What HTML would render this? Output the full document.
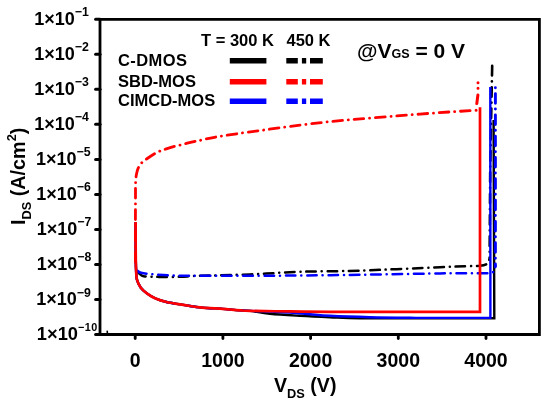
<!DOCTYPE html>
<html><head><meta charset="utf-8"><style>
html,body{margin:0;padding:0;background:#fff;}
svg{display:block;}
text{font-family:"Liberation Sans",Arial,sans-serif;font-weight:bold;fill:#000;}
</style></head><body>
<svg width="550" height="406" viewBox="0 0 550 406">
<rect width="550" height="406" fill="#fff"/>

<path d="M135.60 222.00 C135.62 226.67 135.63 242.33 135.70 250.00 C135.77 257.67 135.78 263.03 136.00 268.00 C136.22 272.97 136.20 276.52 137.00 279.80 C137.80 283.08 139.10 285.40 140.80 287.70 C142.50 290.00 144.73 291.80 147.20 293.60 C149.67 295.40 152.38 297.10 155.60 298.50 C158.82 299.90 162.43 301.02 166.50 302.00 C170.57 302.98 176.08 303.73 180.00 304.40 C183.92 305.07 186.67 305.50 190.00 306.00 C193.33 306.50 196.67 307.03 200.00 307.40 C203.33 307.77 206.67 308.00 210.00 308.20 C213.33 308.40 216.67 308.38 220.00 308.60 C223.33 308.82 226.67 309.22 230.00 309.50 C233.33 309.78 236.67 310.07 240.00 310.30 C243.33 310.53 245.00 310.32 250.00 310.90 C255.00 311.48 261.67 312.98 270.00 313.80 C278.33 314.62 290.00 315.23 300.00 315.80 C310.00 316.37 320.00 316.80 330.00 317.20 C340.00 317.60 345.00 318.02 360.00 318.20 C375.00 318.38 410.00 318.28 420.00 318.30 L494.3 318.3 L493.6 120" fill="none" stroke="#000" stroke-width="2.4" stroke-linejoin="miter"/>
<path d="M137.60 272.00 C138.17 272.50 139.77 274.27 141.00 275.00 C142.23 275.73 141.83 276.08 145.00 276.40 C148.17 276.72 154.17 276.83 160.00 276.90 C165.83 276.97 173.33 276.98 180.00 276.80 C186.67 276.62 188.33 276.20 200.00 275.80 C211.67 275.40 233.33 275.07 250.00 274.40 C266.67 273.73 281.67 272.43 300.00 271.80 C318.33 271.17 336.67 271.37 360.00 270.60 C383.33 269.83 420.00 268.00 440.00 267.20 C460.00 266.40 473.33 266.03 480.00 265.80 C485 265.5 488.5 264.5 489.4 259" fill="none" stroke="#000" stroke-width="2.5" stroke-dasharray="9.6 5.8 0.1 5.8" stroke-linecap="round" stroke-linejoin="round"/>
<path d="M492.2 65.9 L491.4 105 L490.2 170 L489.6 259" fill="none" stroke="#000" stroke-width="2.6" stroke-dasharray="9.6 5.8 0.1 5.8" stroke-linecap="round" stroke-linejoin="round"/>
<path d="M135.60 222.00 C135.62 226.67 135.63 242.33 135.70 250.00 C135.77 257.67 135.78 263.03 136.00 268.00 C136.22 272.97 136.20 276.52 137.00 279.80 C137.80 283.08 139.10 285.40 140.80 287.70 C142.50 290.00 144.73 291.80 147.20 293.60 C149.67 295.40 152.38 297.10 155.60 298.50 C158.82 299.90 162.43 301.02 166.50 302.00 C170.57 302.98 176.08 303.73 180.00 304.40 C183.92 305.07 186.67 305.50 190.00 306.00 C193.33 306.50 196.67 307.03 200.00 307.40 C203.33 307.77 206.67 308.00 210.00 308.20 C213.33 308.40 216.67 308.38 220.00 308.60 C223.33 308.82 226.67 309.22 230.00 309.50 C233.33 309.78 236.67 310.07 240.00 310.30 C243.33 310.53 245.00 310.68 250.00 310.90 C255.00 311.12 263.33 311.33 270.00 311.60 C276.67 311.87 283.33 312.07 290.00 312.50 C296.67 312.93 303.33 313.65 310.00 314.20 C316.67 314.75 320.00 315.30 330.00 315.80 C340.00 316.30 356.67 316.87 370.00 317.20 C383.33 317.53 398.33 317.68 410.00 317.80 C421.67 317.92 435.00 317.88 440.00 317.90 L490.4 317.9 L490.3 87" fill="none" stroke="#00f" stroke-width="2.4" stroke-linejoin="miter"/>
<path d="M137.60 270.90 C138.17 271.22 138.63 272.25 141.00 272.80 C143.37 273.35 146.37 273.73 151.80 274.20 C157.23 274.67 165.57 275.33 173.60 275.60 C181.63 275.87 187.27 275.77 200.00 275.80 C212.73 275.83 228.33 275.90 250.00 275.80 C271.67 275.70 298.33 275.60 330.00 275.20 C361.67 274.80 413.67 273.73 440.00 273.40 C466.33 273.07 480.00 273.23 488.00 273.20 C493 273 495.3 272 495.4 266" fill="none" stroke="#00f" stroke-width="2.5" stroke-dasharray="9.6 5.8 0.1 5.8" stroke-linecap="round" stroke-linejoin="round"/>
<path d="M495.4 87.7 L495.4 266" fill="none" stroke="#00f" stroke-width="2.9" stroke-dasharray="0.1 5.8 9.6 5.8" stroke-linecap="round"/>
<path d="M135.40 262.00 C135.40 256.67 135.38 240.78 135.40 230.00 C135.42 219.22 135.47 205.18 135.50 197.30 C135.53 189.42 135.45 186.50 135.60 182.70 C135.75 178.90 135.97 176.92 136.40 174.50 C136.83 172.08 137.30 170.17 138.20 168.20 C139.10 166.23 140.43 164.22 141.80 162.70 C143.17 161.18 143.97 160.77 146.40 159.10 C148.83 157.43 153.22 154.37 156.40 152.70 C159.58 151.03 162.48 150.15 165.50 149.10 C168.52 148.05 171.48 147.22 174.50 146.40 C177.52 145.58 180.57 144.97 183.60 144.20 C186.63 143.43 189.67 142.50 192.70 141.80 C195.73 141.10 197.85 140.82 201.80 140.00 C205.75 139.18 206.70 138.48 216.40 136.90 C226.10 135.32 241.07 133.05 260.00 130.50 C278.93 127.95 303.33 124.33 330.00 121.60 C356.67 118.87 396.35 115.95 420.00 114.10 C443.65 112.25 463.25 111.10 471.90 110.50" fill="none" stroke="#f00" stroke-width="2.8" stroke-dasharray="9.6 5.8 0.1 5.8" stroke-linecap="round" stroke-linejoin="round"/>
<path d="M476.1 110.3 l0.01 0 M476.8 103.6 L477.9 95 M478 88.3 l0 0.01 M478 82.7 l0 0.01" fill="none" stroke="#f00" stroke-width="3" stroke-linecap="round"/>
<path d="M135.60 222.00 C135.62 226.67 135.63 242.33 135.70 250.00 C135.77 257.67 135.78 263.03 136.00 268.00 C136.22 272.97 136.20 276.52 137.00 279.80 C137.80 283.08 139.10 285.40 140.80 287.70 C142.50 290.00 144.73 291.80 147.20 293.60 C149.67 295.40 152.38 297.10 155.60 298.50 C158.82 299.90 162.43 301.02 166.50 302.00 C170.57 302.98 176.08 303.73 180.00 304.40 C183.92 305.07 186.67 305.50 190.00 306.00 C193.33 306.50 196.67 307.03 200.00 307.40 C203.33 307.77 206.67 308.00 210.00 308.20 C213.33 308.40 216.67 308.38 220.00 308.60 C223.33 308.82 226.67 309.22 230.00 309.50 C233.33 309.78 236.67 310.07 240.00 310.30 C243.33 310.53 241.67 310.72 250.00 310.90 C258.33 311.08 276.67 311.25 290.00 311.40 C303.33 311.55 315.00 311.73 330.00 311.80 C345.00 311.87 371.67 311.80 380.00 311.80 L480 311.8 L480 107.3" fill="none" stroke="#f00" stroke-width="2.7" stroke-linejoin="miter"/>
<path d="M107.2 331.2 L107.4 333" stroke="#000" stroke-width="1.6" stroke-linecap="round"/>
<path d="M100 19.3 H539.4 V334.5 H100 Z" fill="none" stroke="#000" stroke-width="2.8"/>
<line x1="95.6" y1="19.30" x2="100" y2="19.30" stroke="#000" stroke-width="3" stroke-linecap="round"/>
<line x1="95.6" y1="54.32" x2="100" y2="54.32" stroke="#000" stroke-width="3" stroke-linecap="round"/>
<line x1="95.6" y1="89.34" x2="100" y2="89.34" stroke="#000" stroke-width="3" stroke-linecap="round"/>
<line x1="95.6" y1="124.36" x2="100" y2="124.36" stroke="#000" stroke-width="3" stroke-linecap="round"/>
<line x1="95.6" y1="159.38" x2="100" y2="159.38" stroke="#000" stroke-width="3" stroke-linecap="round"/>
<line x1="95.6" y1="194.40" x2="100" y2="194.40" stroke="#000" stroke-width="3" stroke-linecap="round"/>
<line x1="95.6" y1="229.42" x2="100" y2="229.42" stroke="#000" stroke-width="3" stroke-linecap="round"/>
<line x1="95.6" y1="264.44" x2="100" y2="264.44" stroke="#000" stroke-width="3" stroke-linecap="round"/>
<line x1="95.6" y1="299.46" x2="100" y2="299.46" stroke="#000" stroke-width="3" stroke-linecap="round"/>
<line x1="95.6" y1="334.48" x2="100" y2="334.48" stroke="#000" stroke-width="3" stroke-linecap="round"/>
<line x1="135.20" y1="334.5" x2="135.20" y2="338.5" stroke="#000" stroke-width="2.8" stroke-linecap="round"/>
<line x1="222.90" y1="334.5" x2="222.90" y2="338.5" stroke="#000" stroke-width="2.8" stroke-linecap="round"/>
<line x1="310.60" y1="334.5" x2="310.60" y2="338.5" stroke="#000" stroke-width="2.8" stroke-linecap="round"/>
<line x1="398.30" y1="334.5" x2="398.30" y2="338.5" stroke="#000" stroke-width="2.8" stroke-linecap="round"/>
<line x1="486.00" y1="334.5" x2="486.00" y2="338.5" stroke="#000" stroke-width="2.8" stroke-linecap="round"/>
<text x="34.2" y="24.7" font-size="18">1×10<tspan font-size="12.3" dy="-8.4">−1</tspan></text>
<text x="34.2" y="59.7" font-size="18">1×10<tspan font-size="12.3" dy="-8.4">−2</tspan></text>
<text x="34.2" y="94.7" font-size="18">1×10<tspan font-size="12.3" dy="-8.4">−3</tspan></text>
<text x="34.2" y="129.8" font-size="18">1×10<tspan font-size="12.3" dy="-8.4">−4</tspan></text>
<text x="36.0" y="164.8" font-size="18">1×10<tspan font-size="12.3" dy="-8.4">−5</tspan></text>
<text x="36.2" y="199.8" font-size="18">1×10<tspan font-size="12.3" dy="-8.4">−6</tspan></text>
<text x="36.8" y="234.8" font-size="18">1×10<tspan font-size="12.3" dy="-8.4">−7</tspan></text>
<text x="36.8" y="269.8" font-size="18">1×10<tspan font-size="12.3" dy="-8.4">−8</tspan></text>
<text x="36.2" y="304.9" font-size="18">1×10<tspan font-size="12.3" dy="-8.4">−9</tspan></text>
<text x="36.8" y="339.5" font-size="18.3">1×10<tspan font-size="10.8" dy="-8.6" letter-spacing="0.5">−10</tspan></text>
<text x="135.2" y="366.8" font-size="19.5" text-anchor="middle">0</text>
<text x="222.9" y="366.8" font-size="19.5" text-anchor="middle">1000</text>
<text x="310.6" y="366.8" font-size="19.5" text-anchor="middle">2000</text>
<text x="398.3" y="366.8" font-size="19.5" text-anchor="middle">3000</text>
<text x="486.0" y="366.8" font-size="19.5" text-anchor="middle">4000</text>
<text x="274" y="392.3" font-size="19.6">V<tspan font-size="12.8" dy="5.8">DS</tspan><tspan dy="-5.8"> (V)</tspan></text>
<text transform="translate(24.6,225) rotate(-90)" x="0" y="0" font-size="19.75">I<tspan font-size="12.8" dy="5.9">DS</tspan><tspan dy="-5.9"> (A/cm</tspan><tspan font-size="12.8" dy="-8.3">2</tspan><tspan dy="8.3">)</tspan></text>
<text x="201" y="45.7" font-size="16.5">T = 300 K</text>
<text x="286.5" y="46.2" font-size="16.5">450 K</text>
<text x="118" y="66.2" font-size="16.5" letter-spacing="0.4">C-DMOS</text>
<text x="118" y="86.8" font-size="16.5">SBD-MOS</text>
<text x="118" y="106.2" font-size="16.5">CIMCD-MOS</text>
<line x1="229.8" y1="60.8" x2="266.4" y2="60.8" stroke="#000" stroke-width="5.6"/>
<path d="M286.3 60.8H297.8M301.9 60.8H306.2M310 60.8H322.8" stroke="#000" stroke-width="5.6"/>
<line x1="229.8" y1="81.7" x2="266.4" y2="81.7" stroke="#f00" stroke-width="5.6"/>
<path d="M286.3 81.7H297.8M301.9 81.7H306.2M310 81.7H322.8" stroke="#f00" stroke-width="5.6"/>
<line x1="229.8" y1="101.3" x2="266.4" y2="101.3" stroke="#00f" stroke-width="5.6"/>
<path d="M286.3 101.3H297.8M301.9 101.3H306.2M310 101.3H322.8" stroke="#00f" stroke-width="5.6"/>
<text x="357" y="58" font-size="21">@V<tspan font-size="12.5">GS</tspan> = 0 V</text>
</svg></body></html>
